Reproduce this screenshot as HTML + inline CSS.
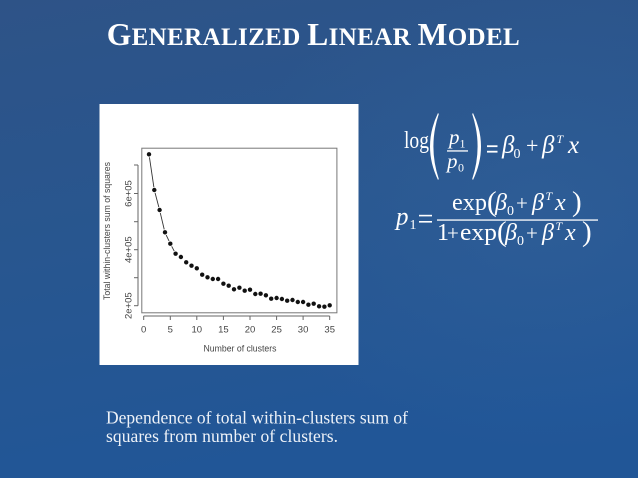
<!DOCTYPE html>
<html><head><meta charset="utf-8"><style>
html,body{margin:0;padding:0;width:638px;height:478px;overflow:hidden;background:#275490;}
svg{display:block;}
</style></head><body>
<svg width="638" height="478" viewBox="0 0 638 478" xmlns="http://www.w3.org/2000/svg">
<defs>
<linearGradient id="bg" x1="0" y1="0" x2="0.25" y2="1">
<stop offset="0" stop-color="#2e5387"/>
<stop offset="0.5" stop-color="#28568f"/>
<stop offset="1" stop-color="#215697"/>
</linearGradient>
<radialGradient id="glow" cx="0.85" cy="0.45" r="0.5">
<stop offset="0" stop-color="#3a68a0" stop-opacity="0.35"/>
<stop offset="1" stop-color="#3a68a0" stop-opacity="0"/>
</radialGradient>
</defs>
<rect x="0" y="0" width="638" height="478" fill="url(#bg)"/>
<rect x="0" y="0" width="638" height="478" fill="url(#glow)"/>

<!-- Title -->
<text x="106.7" y="45" fill="#ffffff" font-family="'Liberation Serif',serif" font-weight="bold" textLength="413" lengthAdjust="spacing"><tspan font-size="31.5">G</tspan><tspan font-size="25">ENERALIZED </tspan><tspan font-size="31.5">L</tspan><tspan font-size="25">INEAR </tspan><tspan font-size="31.5">M</tspan><tspan font-size="25">ODEL</tspan></text>

<!-- Plot panel -->
<rect x="99.5" y="104" width="259" height="261" fill="#ffffff"/>
<rect x="141.8" y="148.2" width="195.1" height="164.6" fill="none" stroke="#777" stroke-width="1"/>
<g stroke="#666" stroke-width="1">
<line x1="143.7" y1="316" x2="329.7" y2="316"/>
<line x1="143.7" y1="316" x2="143.7" y2="320"/>
<line x1="170.3" y1="316" x2="170.3" y2="320"/>
<line x1="196.8" y1="316" x2="196.8" y2="320"/>
<line x1="223.4" y1="316" x2="223.4" y2="320"/>
<line x1="250.0" y1="316" x2="250.0" y2="320"/>
<line x1="276.6" y1="316" x2="276.6" y2="320"/>
<line x1="303.1" y1="316" x2="303.1" y2="320"/>
<line x1="329.7" y1="316" x2="329.7" y2="320"/>
<line x1="138" y1="305.7" x2="138" y2="165"/>
<line x1="134" y1="305.7" x2="138" y2="305.7"/>
<line x1="134" y1="277.7" x2="138" y2="277.7"/>
<line x1="134" y1="249.7" x2="138" y2="249.7"/>
<line x1="134" y1="221.7" x2="138" y2="221.7"/>
<line x1="134" y1="193.5" x2="138" y2="193.5"/>
<line x1="134" y1="165" x2="138" y2="165"/>
</g>
<g font-family="'Liberation Sans',sans-serif" font-size="9.5" fill="#444" text-anchor="middle">
<text x="143.7" y="332.5">0</text>
<text x="170.3" y="332.5">5</text>
<text x="196.8" y="332.5">10</text>
<text x="223.4" y="332.5">15</text>
<text x="250.0" y="332.5">20</text>
<text x="276.6" y="332.5">25</text>
<text x="303.1" y="332.5">30</text>
<text x="329.7" y="332.5">35</text>
<text transform="translate(131.5,305.7) rotate(-90)">2e+05</text>
<text transform="translate(131.5,249.7) rotate(-90)">4e+05</text>
<text transform="translate(131.5,193.5) rotate(-90)">6e+05</text>
<text x="240" y="351.5" font-size="9" textLength="73" lengthAdjust="spacingAndGlyphs">Number of clusters</text>
<text transform="translate(110,231) rotate(-90)" font-size="9" textLength="138" lengthAdjust="spacingAndGlyphs">Total within-clusters sum of squares</text>
</g>
<g stroke="#333" stroke-width="0.9" fill="none">
<line x1="149.44" y1="157.27" x2="153.86" y2="187.03"/>
<line x1="155.07" y1="192.9" x2="158.83" y2="207.1"/>
<line x1="160.29" y1="212.92" x2="164.21" y2="229.38"/>
<line x1="166.18" y1="235.02" x2="169.02" y2="240.98"/>
<line x1="171.7" y1="246.35" x2="174.2" y2="251.05"/>
</g>
<g fill="#111">
<circle cx="149.0" cy="154.3" r="2.2"/>
<circle cx="154.3" cy="190" r="2.2"/>
<circle cx="159.6" cy="210" r="2.2"/>
<circle cx="165.0" cy="232.3" r="2.2"/>
<circle cx="170.3" cy="243.7" r="2.2"/>
<circle cx="175.6" cy="253.7" r="2.2"/>
<circle cx="180.9" cy="257" r="2.2"/>
<circle cx="186.2" cy="262.3" r="2.2"/>
<circle cx="191.5" cy="265.7" r="2.2"/>
<circle cx="196.8" cy="268.3" r="2.2"/>
<circle cx="202.2" cy="274.7" r="2.2"/>
<circle cx="207.5" cy="277.3" r="2.2"/>
<circle cx="212.8" cy="279" r="2.2"/>
<circle cx="218.1" cy="279" r="2.2"/>
<circle cx="223.4" cy="283.7" r="2.2"/>
<circle cx="228.7" cy="285.7" r="2.2"/>
<circle cx="234.0" cy="289.3" r="2.2"/>
<circle cx="239.4" cy="287.7" r="2.2"/>
<circle cx="244.7" cy="290.7" r="2.2"/>
<circle cx="250.0" cy="289.7" r="2.2"/>
<circle cx="255.3" cy="294" r="2.2"/>
<circle cx="260.6" cy="293.7" r="2.2"/>
<circle cx="265.9" cy="295.3" r="2.2"/>
<circle cx="271.2" cy="298.7" r="2.2"/>
<circle cx="276.6" cy="298" r="2.2"/>
<circle cx="281.9" cy="299" r="2.2"/>
<circle cx="287.2" cy="300.7" r="2.2"/>
<circle cx="292.5" cy="300" r="2.2"/>
<circle cx="297.8" cy="302" r="2.2"/>
<circle cx="303.1" cy="302" r="2.2"/>
<circle cx="308.4" cy="304.7" r="2.2"/>
<circle cx="313.7" cy="303.7" r="2.2"/>
<circle cx="319.1" cy="306.3" r="2.2"/>
<circle cx="324.4" cy="306.7" r="2.2"/>
<circle cx="329.7" cy="305.3" r="2.2"/>
</g>

<!-- Formula 1 -->
<g fill="#ffffff" font-family="'Liberation Serif',serif">
<text x="404" y="148" font-size="24" textLength="25" lengthAdjust="spacingAndGlyphs">log</text>
<path d="M438,113 Q422,146.5 438,180 L438.8,179 Q428,146.5 438.8,114 Z"/>
<path d="M473,113 Q489,146.5 473,180 L472.2,179 Q483,146.5 472.2,114 Z"/>
<text x="449" y="144" font-size="21" font-style="italic">p</text>
<text x="459.5" y="147.5" font-size="12">1</text>
<rect x="447" y="150.3" width="21" height="1.3"/>
<text x="447" y="168" font-size="21" font-style="italic">p</text>
<text x="458" y="171.5" font-size="12">0</text>
<rect x="487" y="145.3" width="10.5" height="1.8"/>
<rect x="487" y="150.8" width="10.5" height="1.8"/>
<text x="502" y="153" font-size="25" font-style="italic">β</text>
<text x="513.5" y="158" font-size="14">0</text>
<text x="526" y="153" font-size="22">+</text>
<text x="542" y="153" font-size="25" font-style="italic">β</text>
<text x="556.5" y="143" font-size="12" font-style="italic">T</text>
<text x="568" y="153" font-size="25" font-style="italic">x</text>
</g>

<!-- Formula 2 -->
<g fill="#ffffff" font-family="'Liberation Serif',serif">
<text x="396" y="224.5" font-size="25" font-style="italic">p</text>
<text x="409.5" y="229" font-size="14">1</text>
<rect x="419" y="214.8" width="13" height="1.6"/>
<rect x="419" y="221" width="13" height="1.6"/>
<rect x="437" y="219.4" width="161" height="1.3"/>
<text x="452" y="210" font-size="24" textLength="35" lengthAdjust="spacingAndGlyphs">exp</text>
<text x="487" y="211" font-size="29">(</text>
<text x="495" y="210" font-size="24" font-style="italic">β</text>
<text x="507" y="215" font-size="14">0</text>
<text x="516" y="210" font-size="21">+</text>
<text x="532" y="210" font-size="24" font-style="italic">β</text>
<text x="545.5" y="200" font-size="12" font-style="italic">T</text>
<text x="555" y="210" font-size="24" font-style="italic">x</text>
<text x="572" y="211" font-size="29">)</text>
<text x="437" y="240" font-size="24">1</text>
<text x="447" y="240" font-size="21">+</text>
<text x="460" y="240" font-size="24" textLength="37" lengthAdjust="spacingAndGlyphs">exp</text>
<text x="497" y="241" font-size="29">(</text>
<text x="505" y="240" font-size="24" font-style="italic">β</text>
<text x="517" y="245" font-size="14">0</text>
<text x="526" y="240" font-size="21">+</text>
<text x="542" y="240" font-size="24" font-style="italic">β</text>
<text x="555.5" y="230" font-size="12" font-style="italic">T</text>
<text x="565" y="240" font-size="24" font-style="italic">x</text>
<text x="582" y="241" font-size="29">)</text>
</g>

<!-- Caption -->
<g fill="#eef2f8" font-family="'Liberation Serif',serif" font-size="17.5">
<text x="106" y="423.3" textLength="302" lengthAdjust="spacing">Dependence of total within-clusters sum of</text>
<text x="106" y="442" textLength="232" lengthAdjust="spacing">squares from number of clusters.</text>
</g>
</svg>
</body></html>
